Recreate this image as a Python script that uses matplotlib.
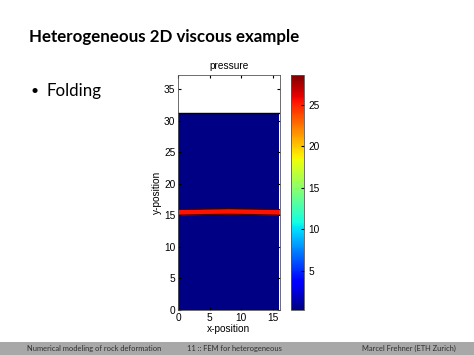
import numpy as np
import matplotlib
matplotlib.use("Agg")
import matplotlib.pyplot as plt
from matplotlib.colors import Normalize
from matplotlib.patches import Rectangle

# slide texts
slide_title = "Heterogeneous 2D viscous example"
bullet = "Folding"
footer = ["Numerical modeling of rock deformation", "11 :: FEM for heterogeneous", "Marcel Frehner (ETH Zurich)"]

# model domain and pressure values
x_domain = [0, 16]
y_domain = [0, 31.2]
p_matrix = 0.5
p_layer = 25.5
p_min, p_max = 0.3, 28.6

# stiff layer outline (folding)
layer_x = [0, 4, 8, 12, 16]
layer_top = [15.95, 16.05, 16.1, 16.05, 15.95]
layer_bot = [15.05, 15.15, 15.2, 15.15, 15.05]

xticks = [0, 5, 10, 15]
yticks = [0, 5, 10, 15, 20, 25, 30, 35]
cticks = [5, 10, 15, 20, 25]

fig = plt.figure(figsize=(4.74, 3.55), dpi=100)
fig.patch.set_facecolor("white")

fig.text(29 / 474, 1 - 37 / 355, slide_title, fontsize=12.2, fontweight="bold",
         family="Lato", va="center", ha="left", color="black")
fig.text(31 / 474, 1 - 91 / 355, "\u2022", fontsize=10, family="Lato", va="center")
fig.text(46 / 474, 1 - 91 / 355, bullet, fontsize=12.2, family="Lato", va="center")

# footer band
fig.patches.append(Rectangle((0, 0), 1, 13 / 355, transform=fig.transFigure,
                             facecolor="#a8a8a8", edgecolor="none", zorder=0))
fpos = [94, 234, 409]
for t, xp in zip(footer, fpos):
    fig.text(xp / 474, 6.5 / 355, t, fontsize=5.4, family="Lato", color="#303030",
             ha="center", va="center")

cmap = plt.get_cmap("jet")
norm = Normalize(vmin=p_min, vmax=p_max)

ax = fig.add_axes([178 / 474, 45 / 355, 102 / 474, 235 / 355])
mesh = ax.pcolormesh(x_domain, y_domain, [[p_matrix]], cmap=cmap, norm=norm)
ax.fill_between(layer_x, layer_bot, layer_top, color=cmap(norm(p_layer)), lw=0)
ax.plot(layer_x, layer_top, color="#400000", lw=0.8)
ax.plot(layer_x, layer_bot, color="#400000", lw=0.8)
ax.plot([x_domain[0], x_domain[1]], [y_domain[1], y_domain[1]], color="black", lw=1)
ax.set_xlim(0, 16.1)
ax.set_ylim(0, 37.3)
ax.set_xticks(xticks)
ax.set_yticks(yticks)
ax.tick_params(direction="in", length=2.5, labelsize=7.3, top=True, right=True, pad=2)
for lab in ax.get_xticklabels() + ax.get_yticklabels():
    lab.set_family("Liberation Sans")
for s in ax.spines.values():
    s.set_color("#555555")
    s.set_linewidth(0.6)
ax.set_title("pressure", fontsize=7.3, family="Liberation Sans", pad=4)
ax.set_xlabel("x-position", fontsize=7.3, family="Liberation Sans", labelpad=1)
ax.set_ylabel("y-position", fontsize=7.3, family="Liberation Sans", labelpad=1)

cax = fig.add_axes([291 / 474, 45 / 355, 13 / 474, 235 / 355])
cb = fig.colorbar(mesh, cax=cax, ticks=cticks)
cb.outline.set_edgecolor("#555555")
cb.outline.set_linewidth(0.6)
cax.tick_params(direction="in", length=2, labelsize=7.3, pad=3)
for lab in cax.get_yticklabels():
    lab.set_family("Liberation Sans")

fig.savefig("out.png", dpi=100)
